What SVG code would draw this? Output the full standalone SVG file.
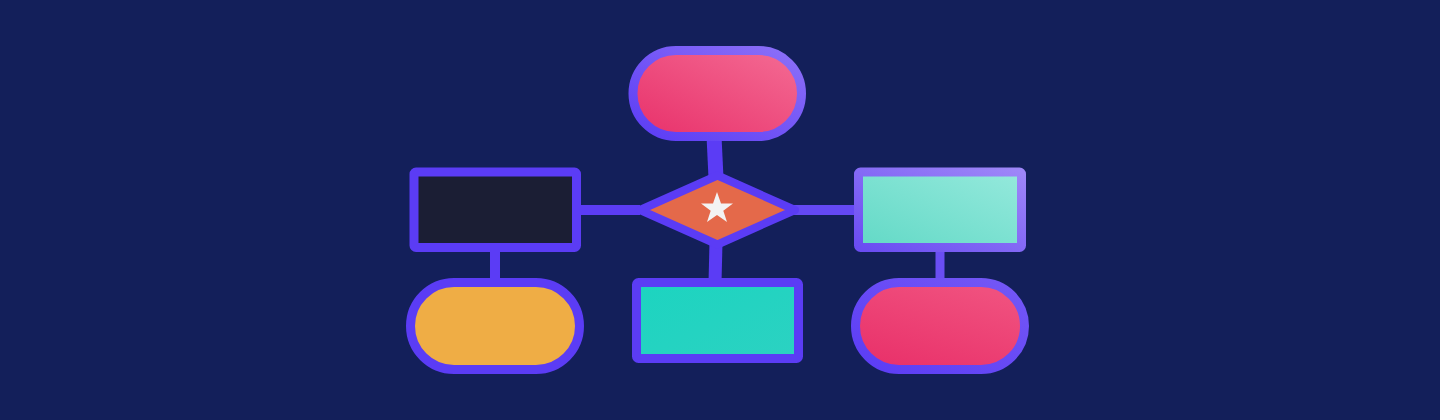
<svg xmlns="http://www.w3.org/2000/svg" width="1440" height="420" viewBox="0 0 1440 420">
<defs>
<linearGradient id="gTopFill" x1="0" y1="1" x2="1" y2="0"><stop offset="0" stop-color="#E8306A"/><stop offset="1" stop-color="#F46C94"/></linearGradient>
<linearGradient id="gTopStroke" x1="0" y1="1" x2="1" y2="0"><stop offset="0" stop-color="#5B3CF5"/><stop offset="1" stop-color="#8C70F8"/></linearGradient>
<linearGradient id="gTealFill" x1="0" y1="1" x2="1" y2="0"><stop offset="0" stop-color="#62D9C6"/><stop offset="1" stop-color="#95E9DC"/></linearGradient>
<linearGradient id="gTealStroke" x1="0" y1="1" x2="1" y2="0"><stop offset="0" stop-color="#6A4CF2"/><stop offset="1" stop-color="#9E86F8"/></linearGradient>
<linearGradient id="gRedFill" x1="0" y1="1" x2="0.6" y2="0"><stop offset="0" stop-color="#E82E68"/><stop offset="1" stop-color="#F0507E"/></linearGradient>
<linearGradient id="gRedStroke" x1="0" y1="1" x2="1" y2="0"><stop offset="0" stop-color="#5B3CF5"/><stop offset="1" stop-color="#7458F6"/></linearGradient>
<linearGradient id="gCyan" x1="0" y1="0" x2="1" y2="1"><stop offset="0" stop-color="#1CD4C0"/><stop offset="1" stop-color="#2CD2C2"/></linearGradient>
<linearGradient id="gLine" x1="0" y1="0" x2="1" y2="0"><stop offset="0" stop-color="#5B3CF5"/><stop offset="1" stop-color="#6A4EF4"/></linearGradient>
</defs>
<style>
.st{stroke:#5B3CF5;stroke-width:9;}
.ln{stroke:#5B3CF5;fill:none;}
</style>
<rect width="1440" height="420" fill="#131F5A"/>
<g id="connectors">
<line class="ln" x1="714" y1="136" x2="716" y2="178" stroke-width="15"/>
<line class="ln" x1="716" y1="242" x2="715" y2="283" stroke-width="13"/>
<line class="ln" x1="576" y1="210" x2="640" y2="210" stroke-width="10"/>
<line class="ln" x1="794" y1="210" x2="859" y2="210" stroke-width="10" style="stroke:#6448F4"/>
<line class="ln" x1="495" y1="250" x2="495" y2="284" stroke-width="10"/>
<line class="ln" x1="940" y1="250" x2="940" y2="284" stroke-width="9" style="stroke:#6A4EF4"/>
</g>
<g id="node-top">
<rect x="633" y="50.5" width="168.5" height="86" rx="43" fill="url(#gTopFill)" stroke="url(#gTopStroke)" stroke-width="9"/>
</g>
<g id="node-decision">
<polygon points="717.5,175.5 795,210 717.5,244.5 640,210" fill="#E4694A" stroke="#5B3CF5" stroke-width="8" stroke-linejoin="round"/>
<polygon points="717,192 721,203.5 733,203.5 723.3,210.7 727,222 717,215 707,222 710.7,210.7 701,203.5 713,203.5" fill="#F3F3F3"/>
</g>
<g id="node-left">
<rect x="414" y="172" width="162.5" height="75.5" rx="2" fill="#1B1E34" class="st"/>
</g>
<g id="node-right">
<rect x="858.5" y="172" width="163" height="75.5" rx="2" fill="url(#gTealFill)" stroke="url(#gTealStroke)" stroke-width="9"/>
</g>
<g id="node-bottom-left">
<rect x="410.5" y="282.5" width="169" height="87" rx="43.5" fill="#EFAD45" class="st"/>
</g>
<g id="node-bottom-center">
<rect x="636.5" y="282.5" width="162" height="76" rx="2" fill="url(#gCyan)" class="st"/>
</g>
<g id="node-bottom-right">
<rect x="855.5" y="282.5" width="169" height="87" rx="43.5" fill="url(#gRedFill)" stroke="url(#gRedStroke)" stroke-width="9"/>
</g>
</svg>
